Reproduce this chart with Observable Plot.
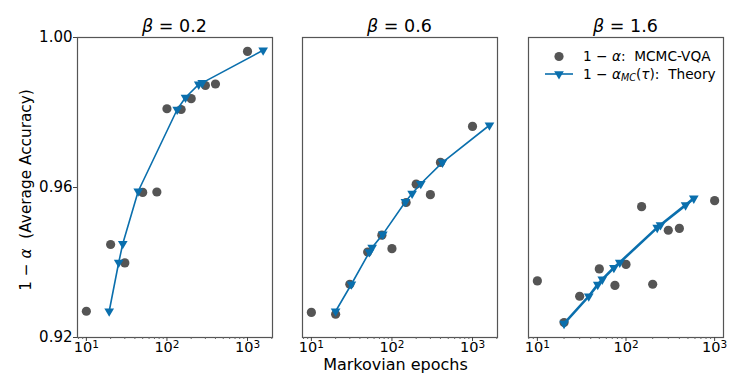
<!DOCTYPE html>
<html>
<head>
<meta charset="utf-8">
<script src="https://cdn.jsdelivr.net/npm/d3@7"></script>
<script src="https://cdn.jsdelivr.net/npm/@observablehq/plot@0.6"></script>
<style>
  html, body { margin: 0; padding: 0; background: white; }
  #wrap { position: relative; width: 747px; height: 376px; font-family: "DejaVu Sans", sans-serif; }
  .panel { position: absolute; top: 0; }
  #overlay { position: absolute; left: 0; top: 0; pointer-events: none; }
  #overlay text { white-space: pre; font-family: "DejaVu Sans", sans-serif; }
</style>
</head>
<body>
<div id="wrap">
  <div id="p1" class="panel" style="left:0px"></div>
  <div id="p2" class="panel" style="left:285px"></div>
  <div id="p3" class="panel" style="left:512px"></div>
  <svg id="overlay" width="747" height="376"></svg>
</div>
<script>
// ---- data ----
const betas = ["0.2", "0.6", "1.6"];

// MCMC-VQA measured (grey dots)
const vqaEpochs02 = [10, 20, 30, 50, 75, 100, 150, 200, 300, 400, 1000];
const vqaAcc02    = [0.927, 0.9448, 0.9399, 0.9587, 0.9588, 0.981, 0.9808, 0.9837, 0.9872, 0.9876, 0.9963];
const vqaEpochs06 = [10, 20, 30, 50, 75, 100, 150, 200, 300, 400, 1000];
const vqaAcc06    = [0.9267, 0.9262, 0.9342, 0.9428, 0.9473, 0.9437, 0.956, 0.9609, 0.9581, 0.9667, 0.9763];
const vqaEpochs16 = [10, 20, 30, 50, 75, 100, 150, 200, 300, 400, 1000];
const vqaAcc16    = [0.9351, 0.924, 0.931, 0.9383, 0.9339, 0.9395, 0.9549, 0.9342, 0.9486, 0.9491, 0.9565];

// Theory 1 - alpha_MC(tau) (blue triangles + line)
const thEpochs02 = [19.2, 25.2, 28.3, 44, 134, 170, 248, 274, 1563];
const thAcc02    = [0.927, 0.940, 0.945, 0.959, 0.9808, 0.984, 0.9875, 0.9879, 0.9966];
const thEpochs06 = [20, 31.4, 52.6, 56.8, 77, 147, 178, 228, 424, 1622];
const thAcc06    = [0.927, 0.9342, 0.9428, 0.944, 0.9475, 0.9562, 0.9584, 0.961, 0.9667, 0.9766];
const thEpochs16 = [20, 38, 48, 54, 73, 85, 225, 245, 470, 582];
const thAcc16    = [0.9237, 0.931, 0.9341, 0.9355, 0.9386, 0.940, 0.9493, 0.950, 0.9553, 0.9571];

const yTicks = [0.92, 0.96, 1.00];
const xTicks = [10, 100, 1000];
const xMinor = [8, 9, 20, 30, 40, 50, 60, 70, 80, 90, 200, 300, 400, 500, 600, 700, 800, 900, 2000];

const grey = "#555555";
const blue = "#0a6fad";

function rows(xs, ys) { return xs.map((x, i) => ({x, y: ys[i]})); }

function panel(el, opts) {
  const {vE, vA, tE, tA, domain, width, ml, mr, showY, lw} = opts;
  const vqa = rows(vE, vA);
  const th = rows(tE, tA);
  const minors = xMinor.filter(d => d >= domain[0] && d <= domain[1]);
  const marks = [
    Plot.dot(vqa, {x: "x", y: "y", r: 4.6, fill: grey, stroke: "none"}),
    Plot.line(th, {x: "x", y: "y", stroke: blue, strokeWidth: lw}),
    Plot.dot(th, {x: "x", y: "y", symbol: "triangle", rotate: 180, r: 3.6, fill: blue, stroke: "none"}),
    Plot.frame({stroke: "#555", strokeWidth: 1.2}),
    Plot.axisX({ticks: xTicks, tickFormat: d => "10^" + Math.round(Math.log10(d)), tickSize: 4, tickPadding: 0.5, label: null, stroke: "#444", fontSize: 14.5}),
    Plot.axisX({ticks: minors, tickFormat: () => "", tickSize: 2, label: null, stroke: "#666"})
  ];
  if (showY) marks.push(Plot.axisY({ticks: yTicks, tickFormat: d3.format(".2f"), tickSize: 4, tickPadding: 1, label: null, stroke: "#444"}));
  const p = Plot.plot({
    width, height: 376,
    marginLeft: ml, marginRight: mr, marginTop: 37, marginBottom: 39,
    style: {fontFamily: "DejaVu Sans, sans-serif", fontSize: "15px", color: "#000", background: "transparent", overflow: "visible"},
    x: {type: "log", domain, axis: null},
    y: {domain: [0.92, 1.0], axis: null},
    marks
  });
  // render "10^k" tick labels as 10 with a raised superscript, like the reference
  d3.select(p).selectAll("text").each(function () {
    const s = this.textContent;
    const m = /^10\^(\d)$/.exec(s);
    if (!m) return;
    const t = d3.select(this);
    t.text(null);
    t.append("tspan").text("10");
    t.append("tspan").attr("font-size", 10.5).attr("dy", "-0.45em").text(m[1]);
  });
  document.getElementById(el).appendChild(p);
}

const domA = [Math.pow(10, 0.89), Math.pow(10, 3.31)];
const domB = [Math.pow(10, 0.9), Math.pow(10, 3.1)];
panel("p1", {vE: vqaEpochs02, vA: vqaAcc02, tE: thEpochs02, tA: thAcc02, domain: domA, width: 285, ml: 77, mr: 13, showY: true, lw: 1.6});
panel("p2", {vE: vqaEpochs06, vA: vqaAcc06, tE: thEpochs06, tA: thAcc06, domain: domA, width: 227, ml: 17, mr: 15, showY: false, lw: 1.6});
panel("p3", {vE: vqaEpochs16, vA: vqaAcc16, tE: thEpochs16, tA: thAcc16, domain: domB, width: 235, ml: 16, mr: 24, showY: false, lw: 2.6});

// ---- overlay texts: titles, axis labels, legend ----
const ov = d3.select("#overlay");
const centers = [174.5, 399.5, 625.5];
betas.forEach((b, i) => {
  const t = ov.append("text").attr("x", centers[i]).attr("y", 31.5)
    .attr("text-anchor", "middle").attr("font-size", 17.5).attr("fill", "#000");
  t.append("tspan").attr("font-style", "italic").text("β");
  t.append("tspan").text(" = " + b);
});

const yl = ov.append("text").attr("transform", "translate(26,190) rotate(-90)")
  .attr("text-anchor", "middle").attr("dominant-baseline", "central").attr("font-size", 15.3).attr("fill", "#000");
yl.append("tspan").text("1 − ");
yl.append("tspan").attr("font-style", "italic").text("α");
yl.append("tspan").text("  (Average Accuracy)");

ov.append("text").attr("x", 395.5).attr("y", 369.5).attr("text-anchor", "middle")
  .attr("font-size", 16).attr("fill", "#000").text("Markovian epochs");

// legend
ov.append("circle").attr("cx", 559).attr("cy", 56.5).attr("r", 4.6).attr("fill", grey);
ov.append("line").attr("x1", 545).attr("x2", 573).attr("y1", 74).attr("y2", 74).attr("stroke", blue).attr("stroke-width", 1.6);
ov.append("path").attr("transform", "translate(559,74) rotate(180)")
  .attr("d", d3.symbol(d3.symbolTriangle, Math.PI * 3.6 * 3.6)()).attr("fill", blue);
const l1 = ov.append("text").attr("x", 583).attr("y", 61.3).attr("font-size", 13.7).attr("fill", "#000");
l1.append("tspan").text("1 − ");
l1.append("tspan").attr("font-style", "italic").text("α");
l1.append("tspan").text(":  MCMC-VQA");
const l2 = ov.append("text").attr("x", 583).attr("y", 78.8).attr("font-size", 13.7).attr("fill", "#000");
l2.append("tspan").text("1 − ");
l2.append("tspan").attr("font-style", "italic").text("α");
l2.append("tspan").attr("font-style", "italic").attr("font-size", 9.6).attr("dy", 2.5).text("MC");
l2.append("tspan").attr("dy", -2.5).text("(");
l2.append("tspan").attr("font-style", "italic").text("τ");
l2.append("tspan").text("):  Theory");
</script>
</body>
</html>
